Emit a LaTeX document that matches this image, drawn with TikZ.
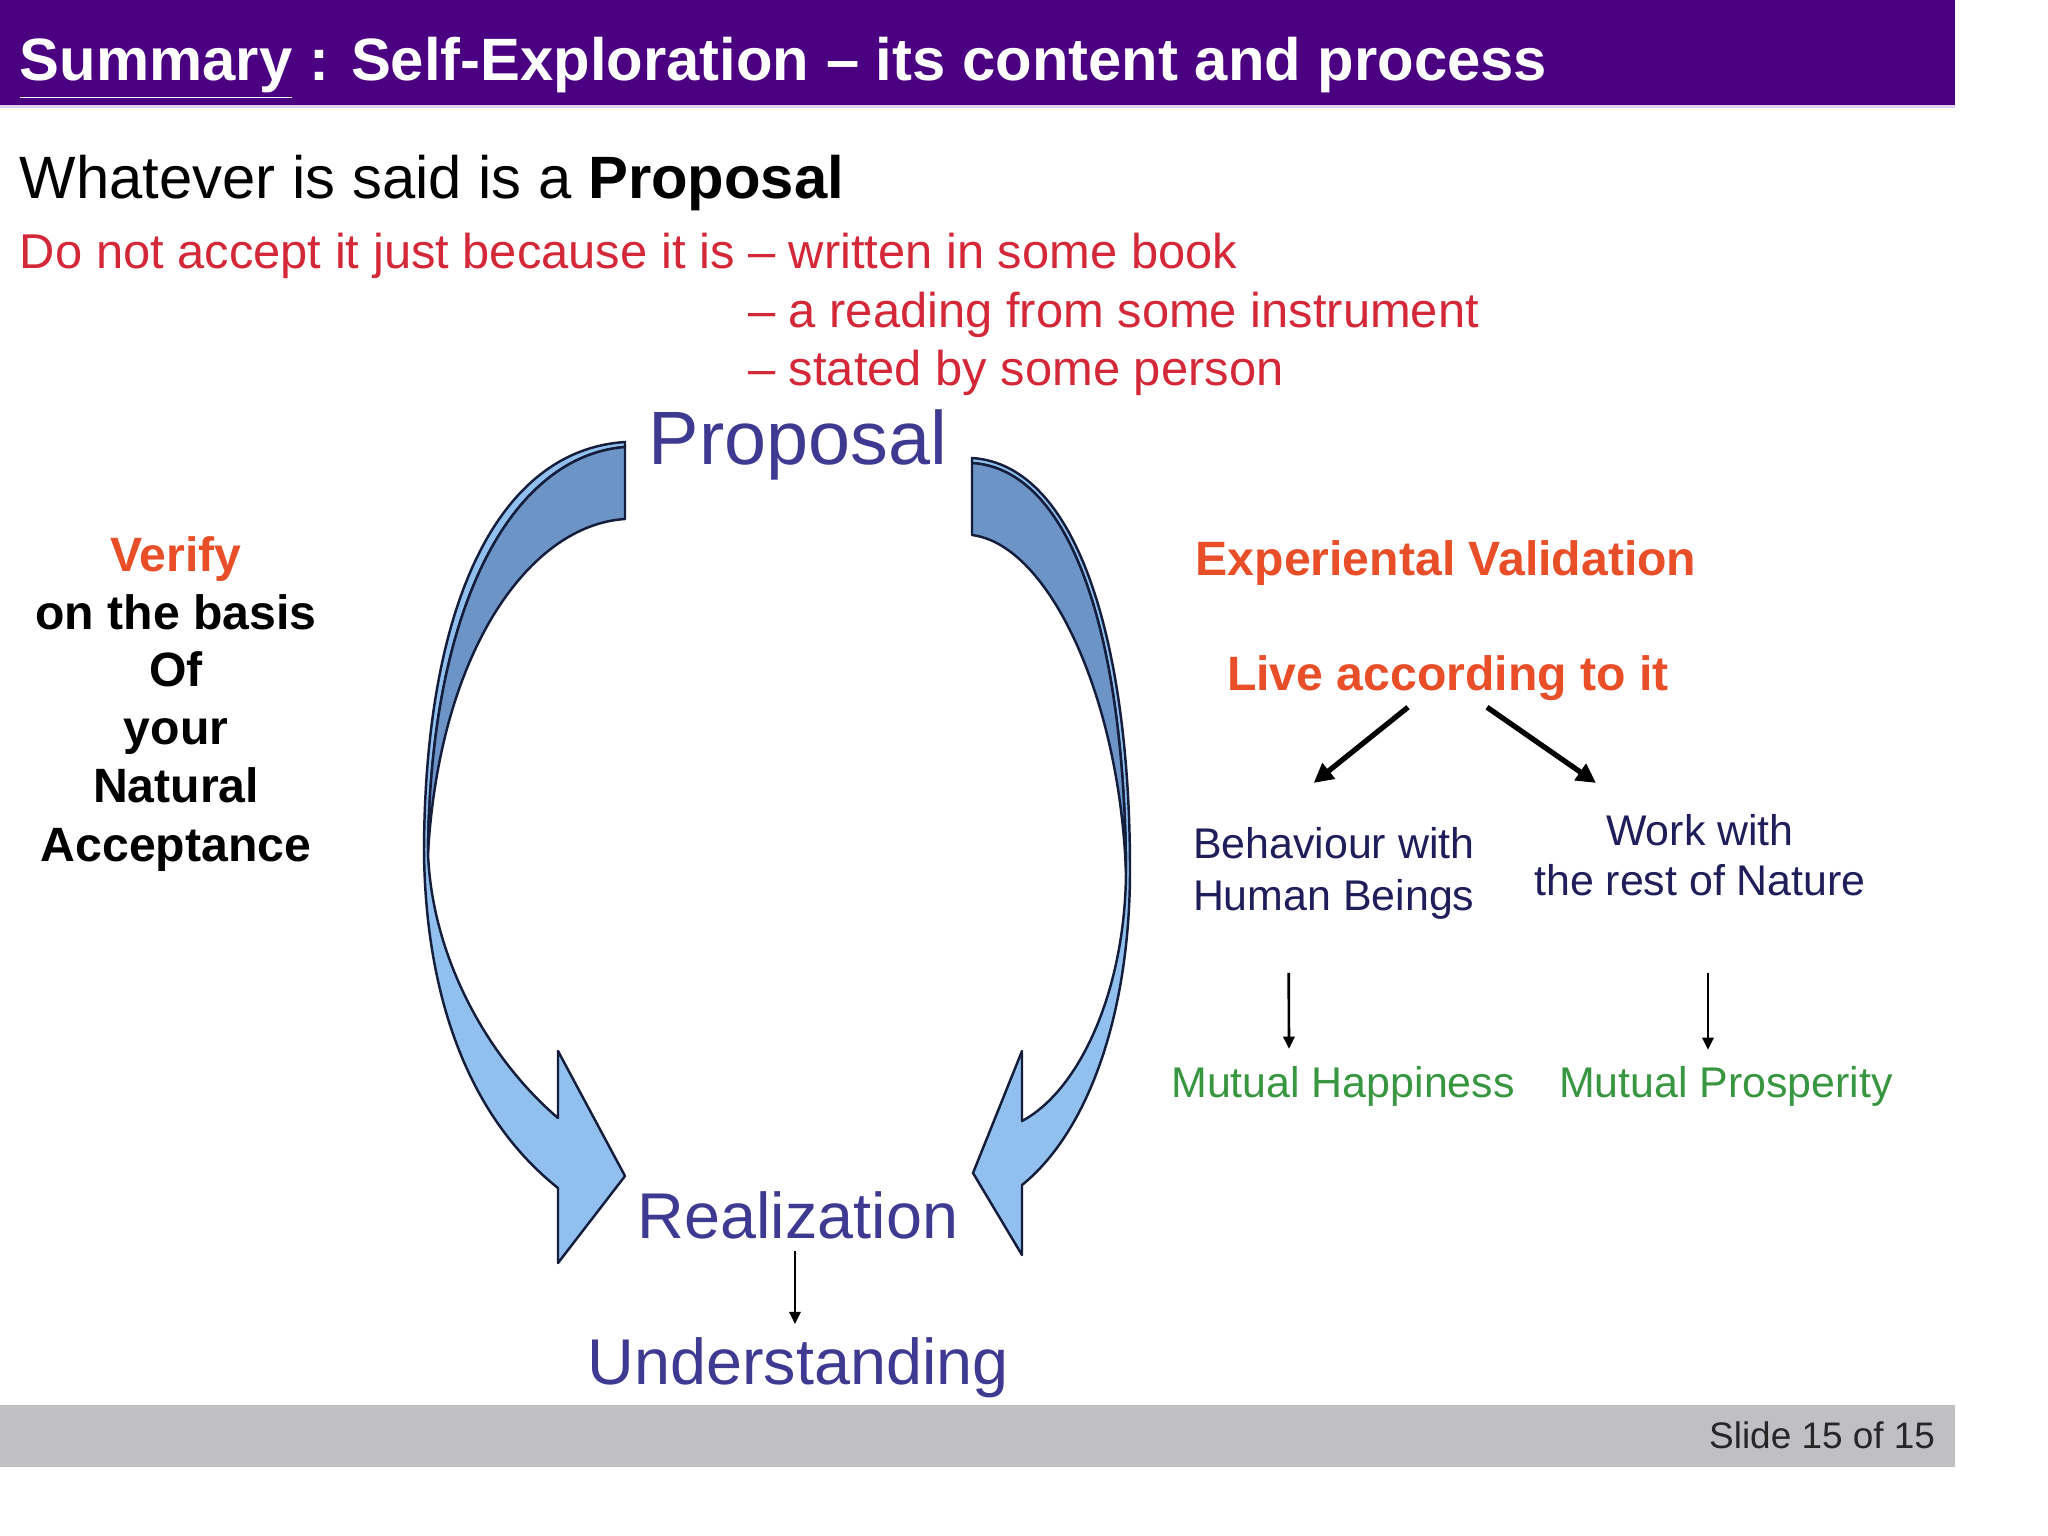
\documentclass[tikz,border=0pt]{standalone}
\usepackage{fontspec}
\setmainfont{Liberation Sans}
\usetikzlibrary{arrows.meta,calc}
\definecolor{titlebar}{RGB}{75,0,130}
\definecolor{titleline}{RGB}{226,212,240}
\definecolor{footgrey}{RGB}{192,191,196}
\definecolor{propblue}{RGB}{62,58,145}
\definecolor{redtxt}{RGB}{212,40,56}
\definecolor{orangetxt}{RGB}{232,78,40}
\definecolor{navytxt}{RGB}{32,30,90}
\definecolor{greentxt}{RGB}{56,150,64}
\definecolor{arrdark}{RGB}{108,148,198}
\definecolor{arrlight}{RGB}{146,192,238}
\definecolor{arrline}{RGB}{20,30,60}
\newcommand{\myfs}[1]{\fontsize{#1pt}{1.2\dimexpr #1pt\relax}\selectfont}
\begin{document}
\begin{tikzpicture}[x=0.01cm,y=-0.01cm,
  txt/.style={inner sep=0pt, outer sep=0pt},
  bigword/.style={txt, anchor=base, text=propblue},
  leftline/.style={txt, anchor=base, font=\myfs{13.7}\bfseries},
  orangehead/.style={txt, anchor=base, text=orangetxt, font=\myfs{13.7}\bfseries},
  redline/.style={txt, anchor=base west, text=redtxt, font=\myfs{13.9}},
  navyline/.style={txt, text=navytxt, font=\myfs{12.2}},
  greenline/.style={txt, anchor=base, text=greentxt, font=\myfs{12.2}},
  bandfront/.style={fill=arrlight, draw=arrline, line width=0.7pt, line join=round},
  bandback/.style={fill=arrdark, draw=arrline, line width=0.7pt, line join=round},
  diagarr/.style={line width=1.5pt, -{Triangle[length=5.5pt,width=5.5pt]}},
  thinarr/.style={line width=0.75pt, -{Triangle[length=3.5pt,width=3.2pt]}}
]
\useasboundingbox (0,0) rectangle (2048,1536);
\fill[white] (0,0) rectangle (2048,1536);
% title and footer bars
\fill[titlebar] (0,0) rectangle (1955,105);
\fill[titleline] (0,105) rectangle (1955,108);
\fill[footgrey] (0,1405) rectangle (1955,1467);

% left curved arrow
\path[bandfront] (625,442) .. controls (500,450) and (425,600) .. (424,850)
  .. controls (425,980) and (460,1110) .. (558,1188)
  -- (558,1263) -- (625,1176) -- (558,1051) -- (558,1118)
  .. controls (490,1060) and (432,960) .. (428,853)
  .. controls (430,605) and (512,456) .. (625,447) -- cycle;
\path[bandback] (625,447) .. controls (512,456) and (430,605) .. (428,853)
  .. controls (440,650) and (530,525) .. (625,519) -- cycle;

% right curved arrow
\path[bandfront] (972,458) .. controls (1080,465) and (1130,650) .. (1130,870)
  .. controls (1130,1010) and (1090,1130) .. (1022,1185)
  -- (1022,1255) -- (973,1173) -- (1022,1051) -- (1022,1121)
  .. controls (1080,1090) and (1125,990) .. (1126,873)
  .. controls (1125,652) and (1077,470) .. (972,463) -- cycle;
\path[bandback] (972,463) .. controls (1077,470) and (1125,652) .. (1126,873)
  .. controls (1120,700) and (1050,545) .. (972,535) -- cycle;

% texts
\node[txt, anchor=base west, text=white, font=\myfs{17}\bfseries] (title) at (20,80)
  {\underline{Summary} : Self-Exploration – its content and process};
\node[txt, anchor=base west, font=\myfs{17}] (say) at (20,198)
  {Whatever is said is a \textbf{Proposal}};
\node[redline] (red1) at (20,268) {Do not accept it just because it is – written in some book};
\node[redline] (red2) at (20,327) {\hphantom{Do not accept it just because it is\ }– a reading from some instrument};
\node[redline] (red3) at (20,385) {\hphantom{Do not accept it just because it is\ }– stated by some person};

\node[bigword, font=\myfs{21.5}] (prop) at (798,464) {Proposal};
\node[bigword, font=\myfs{18.4}] (real) at (798,1238) {Realization};
\node[bigword, font=\myfs{18.4}] (und) at (798,1384) {Understanding};

\node[orangehead] (verify) at (176,571) {Verify};
\node[leftline] (basis) at (176,629) {on the basis};
\node[leftline] (of) at (176,686) {Of};
\node[leftline] (your) at (176,744) {your};
\node[leftline] (natural) at (176,802) {Natural};
\node[leftline] (accept) at (176,861) {Acceptance};

\node[orangehead] (exp) at (1446,575) {Experiental Validation};
\node[orangehead] (live) at (1448,690) {Live according to it};

\node[navyline, anchor=base west] (beh1) at (1193,858) {Behaviour with};
\node[navyline, anchor=base west] (beh2) at (1193,910) {Human Beings};
\node[navyline, anchor=base] (work1) at (1700,845) {Work with};
\node[navyline, anchor=base] (work2) at (1700,895) {the rest of Nature};

\node[greenline] (hap) at (1343,1097) {Mutual Happiness};
\node[greenline] (pros) at (1726,1097) {Mutual Prosperity};

\node[txt, anchor=base east, font=\myfs{10.5}, text=black!85] (slide) at (1935,1448) {Slide 15 of 15};

% connectors
\draw[thinarr] ($(real.south)+(-3,12)$) -- ($(und.north)+(-3,-13)$);
\draw[diagarr] ($(live.south)+(-40,7)$) -- ($(beh1.north)+(-20,-44)$);
\draw[diagarr] ($(live.south)+(39,7)$) -- ($(work1.north)+(-104,-31)$);
\draw[thinarr] ($(beh2.south)+(-45,54)$) -- ($(hap.north)+(-54,-17)$);
\draw[thinarr] ($(work2.south)+(8,78)$) -- ($(pros.north)+(-18,-16)$);
\end{tikzpicture}
\end{document}
